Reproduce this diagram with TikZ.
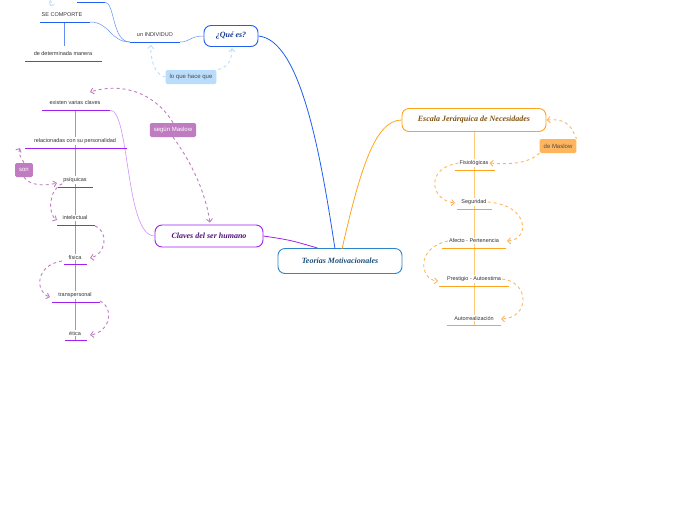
\documentclass[tikz,border=0pt]{standalone}
\usepackage{fontspec}
\setmainfont{Liberation Sans}
\newfontfamily\titlefont{Liberation Serif}
\usetikzlibrary{arrows.meta}
\definecolor{bl}{HTML}{1F5EF0}
\definecolor{lbl}{HTML}{B9DDFB}
\definecolor{pu}{HTML}{A020F0}
\definecolor{lpu}{HTML}{C07CC0}
\definecolor{or}{HTML}{FFA41E}
\definecolor{lor}{HTML}{FFB55E}
\definecolor{cb}{HTML}{2E86C9}
\begin{document}
\begin{tikzpicture}[x=1pt,y=-1pt,
  main/.style={draw,rounded corners=7pt,line width=0.9pt,fill=white,minimum height=22pt,font=\titlefont\itshape\bfseries\fontsize{8}{9}\selectfont,inner xsep=8pt},
  lab/.style={font=\fontsize{5.5}{6}\selectfont,text=black!80,inner sep=1pt},
  tag/.style={rounded corners=1.5pt,font=\fontsize{6}{7}\selectfont,text=white,minimum height=14pt,inner xsep=4pt},
  dsh/.style={dashed,line width=0.9pt,-{Straight Barb[length=3pt]}}]
\useasboundingbox (0,0) rectangle (696,520);
% central
\node[main,draw=cb,text=cb!60!black,minimum width=124pt,minimum height=25pt] (c) at (340,261) {Teorías Motivacionales};
% Que es
\node[main,draw=bl,text=bl!60!black,minimum width=54pt,minimum height=21pt] (q) at (231,36) {¿Qué es?};
\draw[bl,line width=0.8pt] (q.east) .. controls (300,40) and (320,150) .. (335,249);
\node[lab] (ind) at (155,35) {un INDIVIDUO};
\coordinate (indl) at (130,42); \coordinate (indr) at (180,42);
\draw[bl,line width=1pt] (indl)--(indr);
\draw[bl!70,line width=0.5pt] (q.west) .. controls (190,36) and (190,42) .. (indr);
\coordinate (top1) at (77,2); \coordinate (top2) at (105,2);
\draw[bl,line width=1pt] (top1)--(top2);
\draw[bl!70,line width=0.5pt] (indl) .. controls (112,42) and (115,3) .. (top2);
\node[lab] (se) at (62,15) {SE COMPORTE};
\coordinate (sel) at (40,22); \coordinate (ser) at (90,22);
\draw[bl,line width=1pt] (sel)--(ser);
\draw[bl!70,line width=0.5pt] (indl) .. controls (110,42) and (110,22) .. (ser);
\draw[bl!70,line width=0.5pt] (64,23)--(64,46);
\node[lab] (de) at (63,54) {de determinada manera};
\draw[bl,line width=1pt] (25,61)--(102,61);
\node[tag,fill=lbl,text=black!70] (lq) at (191,77) {lo que hace que};
\draw[dsh,lbl] (lq.west) .. controls (155,75) and (150,60) .. (151,45);
\draw[dsh,lbl,{Straight Barb[length=3pt]}-] (232,48) .. controls (232,60) and (228,68) .. (lq.north east);
\draw[dsh,lbl] (50,0) .. controls (52,3) .. (50,6);
% Claves
\node[main,draw=pu,text=pu!50!black,minimum width=108pt] (cl) at (209,236) {Claves del ser humano};
\draw[pu,line width=0.8pt] (c.north west) ++(40,0) .. controls (290,240) .. (cl.east);
\draw[pu!50,line width=0.6pt] (cl.west) .. controls (125,236) and (130,110) .. (110,110);
\draw[pu!60,line width=0.5pt] (75,110)--(75,340);
\foreach \n/\t/\y/\a/\b in {ex/existen varias claves/103/42/110, re/relacionadas con su personalidad/141/25/127, ps/psíquicas/180/58/93, it/intelectual/218/57/95, fi/física/257/64/87, tr/transpersonal/295/52/100, et/ética/333/65/87}{
  \node[lab,fill=white] (\n) at (75,\y) {\t};
  \draw[pu,line width=1pt] (\a,\y+7)--(\b,\y+7);
}
\node[tag,fill=lpu] (sm) at (173,130) {según Maslow};
\draw[dsh,lpu,{Straight Barb[length=3pt]}-] (cl.north) ++(1,-2) .. controls (205,190) and (190,160) .. (sm.south);
\draw[dsh,lpu] (sm.north) .. controls (160,100) and (130,80) .. (90,92);
\node[tag,fill=lpu] (so) at (24,170) {son};
\draw[dsh,lpu,{Straight Barb[length=3pt]}-] (20,148) .. controls (18,152) .. (so.north);
\draw[dsh,lpu] (so.south) .. controls (30,186) and (45,186) .. (57,183);
\draw[dsh,lpu] (ps.south west) .. controls (48,190) and (48,215) .. (57,220);
\draw[dsh,lpu] (95,226) .. controls (110,232) and (105,255) .. (90,258);
\draw[dsh,lpu] (62,261) .. controls (35,265) and (35,292) .. (50,297);
\draw[dsh,lpu] (100,301) .. controls (115,308) and (110,332) .. (90,335);
% Escala
\node[main,draw=or,text=or!50!black,minimum width=144pt,minimum height=23pt] (es) at (474,120) {Escala Jerárquica de Necesidades};
\draw[or,line width=0.8pt] (342,249) .. controls (360,170) and (375,120) .. (es.west);
\draw[or!60,line width=0.5pt] (es.south)--(474,325);
\foreach \n/\t/\y/\a/\b in {fs/Fisiológicas/163/455/495, sg/Seguridad/202/457/492, af/Afecto - Pertenencia/241/442/506, pr/Prestigio - Autoestima/279/439/509, au/Autorrealización/318/447/501}{
  \node[lab,fill=white] (\n) at (474,\y) {\t};
  \draw[or,line width=1pt] (\a,\y+7)--(\b,\y+7);
}
\node[tag,fill=lor,text=black!70] (dm) at (558,146) {de Maslow};
\draw[dsh,lor,{Straight Barb[length=3pt]}-] (es.east) .. controls (570,118) and (572,130) .. (dm.north east);
\draw[dsh,lor] (dm.south west) .. controls (530,162) and (515,165) .. (fs.east);
\draw[dsh,lor] (fs.west) .. controls (425,168) and (430,200) .. (455,203);
\draw[dsh,lor] (sg.east) .. controls (530,205) and (530,240) .. (507,241);
\draw[dsh,lor] (af.west) .. controls (415,248) and (420,280) .. (438,281);
\draw[dsh,lor] (pr.east) .. controls (530,282) and (530,318) .. (501,319);
\end{tikzpicture}
\end{document}
